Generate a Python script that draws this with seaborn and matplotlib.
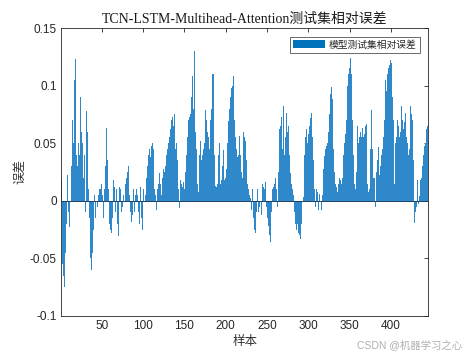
import numpy as np
import pandas as pd
import matplotlib
matplotlib.use("Agg")
import matplotlib.pyplot as plt
from matplotlib.patches import Patch
import seaborn as sns

# ---------------- data ----------------
rel_error = [
    # 1-48
    0.018, -0.03, -0.055, -0.065, -0.075, -0.045, -0.02, 0.02, 0.022, -0.01,
    -0.023, 0.0, 0.01, 0.03, 0.07, 0.05, 0.105, 0.123, 0.07, 0.04,
    0.03, 0.05, 0.04, 0.09, 0.088, 0.06, 0.05, 0.02, 0.04, -0.01,
    0.07, 0.078, 0.06, 0.01, -0.015, -0.035, -0.05, -0.06, -0.045, -0.025,
    0.005, 0.01, -0.015, 0.0, -0.005, 0.005, 0.01, 0.0,
    # 49-94
    0.01, 0.015, 0.005, -0.015, 0.01, 0.02, 0.03, 0.063, 0.035, 0.01,
    -0.01, -0.02, -0.025, -0.028, -0.015, 0.018, 0.005, 0.012, -0.01, 0.01,
    -0.02, -0.031, -0.02, 0.012, 0.01, -0.01, -0.005, 0.005, 0.012, 0.0,
    0.015, 0.02, 0.025, 0.042, 0.03, 0.005, -0.01, -0.018, -0.012, 0.005,
    0.01, -0.01, 0.005, 0.01, 0.005, 0.01,
    # 95-136
    -0.01, -0.02, 0.012, -0.015, -0.025, -0.02, 0.01, 0.0, 0.005, 0.02,
    0.04, 0.03, 0.04, 0.045, 0.038, 0.048, 0.056, 0.05, 0.045, 0.01,
    0.005, -0.008, 0.0, 0.01, 0.015, 0.024, 0.015, 0.005, 0.015, 0.02,
    0.028, 0.025, 0.03, 0.035, 0.04, 0.045, 0.05, 0.055, 0.062, 0.058,
    0.07, 0.073,
    # 137-184
    0.065, 0.075, 0.045, 0.07, 0.05, 0.035, 0.01, -0.006, 0.018, 0.019,
    0.015, 0.012, 0.016, 0.01, 0.012, 0.025, 0.04, 0.055, 0.07, 0.073,
    0.05, 0.075, 0.09, 0.108, 0.08, 0.13, 0.09, 0.06, 0.045, 0.015,
    0.008, 0.04, 0.045, 0.052, 0.035, 0.04, 0.045, 0.05, 0.065, 0.079,
    0.07, 0.06, 0.055, 0.05, 0.045, 0.07, 0.08, 0.11,
    # 185-232
    0.11, 0.09, 0.04, 0.013, 0.012, 0.015, 0.04, 0.072, 0.05, 0.015,
    0.018, 0.03, 0.044, 0.025, 0.018, 0.02, 0.028, 0.05, 0.065, 0.069,
    0.08, 0.09, 0.098, 0.1, 0.114, 0.108, 0.07, 0.055, 0.045, 0.038,
    0.03, 0.04, 0.056, 0.04, 0.025, 0.02, 0.045, 0.06, 0.055, 0.052,
    0.035, 0.02, 0.015, 0.01, 0.005, 0.002, -0.008, 0.005,
    # 233-278
    0.01, -0.015, -0.025, -0.028, -0.01, 0.021, 0.01, -0.01, -0.005, 0.0,
    -0.012, 0.008, 0.015, 0.012, 0.01, 0.016, 0.01, -0.005, -0.015, -0.022,
    -0.03, -0.036, -0.03, -0.01, 0.01, 0.012, 0.015, 0.02, 0.036, 0.01,
    -0.005, 0.025, 0.062, 0.065, 0.05, 0.073, 0.045, 0.082, 0.04, 0.045,
    0.055, 0.076, 0.06, 0.065, 0.04, 0.035,
    # 279-324
    0.024, 0.015, 0.01, 0.005, -0.01, -0.015, -0.02, -0.025, -0.02, -0.028,
    -0.03, -0.035, -0.033, -0.02, 0.0, 0.003, 0.025, 0.04, 0.055, 0.062,
    0.05, 0.058, 0.07, 0.065, 0.072, 0.076, 0.055, 0.035, 0.018, 0.01,
    -0.005, 0.01, 0.008, -0.008, 0.004, 0.006, 0.0, -0.008, 0.005, 0.015,
    0.028, 0.039, 0.045, 0.048, 0.05, 0.052,
    # 325-370
    0.06, 0.075, 0.093, 0.099, 0.088, 0.07, 0.045, 0.025, 0.015, 0.012,
    0.008, -0.006, 0.015, 0.02, 0.018, 0.015, 0.022, 0.02, 0.04, 0.05,
    0.058, 0.07, 0.085, 0.1, 0.11, 0.115, 0.124, 0.11, 0.09, 0.07,
    0.04, 0.015, 0.01, 0.025, 0.045, 0.065, 0.05, 0.055, 0.06, 0.07,
    0.055, 0.063, 0.055, 0.058, 0.065, 0.06,
    # 371-412
    0.067, 0.015, 0.008, 0.01, 0.045, 0.06, 0.079, 0.045, 0.02, 0.02,
    -0.005, 0.018, 0.025, 0.035, 0.047, 0.022, 0.025, 0.03, 0.04, 0.045,
    0.055, 0.07, 0.09, 0.105, 0.095, 0.11, 0.115, 0.118, 0.12, 0.122,
    0.12, 0.09, 0.07, 0.015, 0.04, 0.05, 0.055, 0.07, 0.065, 0.06,
    0.055, 0.06,
    # 413-445
    0.082, 0.07, 0.062, 0.075, 0.068, 0.076, 0.055, 0.05, 0.04, 0.065,
    0.045, 0.082, 0.075, 0.07, 0.035, 0.012, -0.019, -0.01, -0.005, 0.018,
    0.01, -0.003, 0.004, 0.018, 0.02, 0.03, 0.036, 0.04, 0.048, 0.05,
    0.062, 0.065, 0.065,
]
sample_index = list(range(1, len(rel_error) + 1))

xtick_values = [50, 100, 150, 200, 250, 300, 350, 400]
ytick_values = [-0.1, -0.05, 0, 0.05, 0.1, 0.15]
ytick_labels = ["-0.1", "-0.05", "0", "0.05", "0.1", "0.15"]

title_text = "TCN-LSTM-Multihead-Attention测试集相对误差"
legend_text = "模型测试集相对误差"
xlabel_text = "样本"
ylabel_text = "误差"
watermark_text = "CSDN @机器学习之心"

# ---------------- plot ----------------
sns.set_theme(style="white")
plt.rcParams["font.family"] = ["Liberation Sans", "Noto Sans CJK SC", "DejaVu Sans"]

bar_color = "#2f88c9"
legend_color = "#0072BD"
df = pd.DataFrame({"sample": sample_index, "err": rel_error})

fig = plt.figure(figsize=(4.74, 3.55), dpi=100)
ax = fig.add_axes([0.129, 0.110, 0.775, 0.811])

sns.barplot(data=df, x="sample", y="err", native_scale=True, color=bar_color,
            saturation=1, width=1.0, linewidth=0, ax=ax)
ax.axhline(0, color="#1f3f5f", lw=0.7, zorder=3)

ax.set_xlim(1.0, 445.6)
ax.set_ylim(-0.1, 0.15)
ax.set_xticks(xtick_values)
ax.set_xticklabels([str(v) for v in xtick_values])
ax.set_yticks(ytick_values)
ax.set_yticklabels(ytick_labels)

ax.tick_params(axis="both", direction="in", length=3, width=0.6, top=True,
               right=True, labelsize=8.5, colors="#262626", pad=3)
for sp in ax.spines.values():
    sp.set_visible(True)
    sp.set_color("#262626")
    sp.set_linewidth(0.6)

ax.set_title(title_text, family=["Liberation Serif", "Noto Sans CJK SC"],
             fontsize=10, color="#1a1a1a", pad=4)
ax.set_xlabel(xlabel_text, family=["Noto Sans CJK SC"], fontsize=9,
              color="#333333", labelpad=2)
ax.set_ylabel(ylabel_text, family=["Noto Sans CJK SC"], fontsize=9,
              color="#333333", labelpad=3)

handle = Patch(facecolor=legend_color, edgecolor="none")
leg = ax.legend([handle], [legend_text], loc="upper right",
                prop={"family": ["Noto Sans CJK SC"], "size": 7},
                handlelength=3.3, handleheight=0.9, handletextpad=0.4,
                borderpad=0.3, borderaxespad=0.9, frameon=True, fancybox=False)
leg.get_frame().set_edgecolor("#262626")
leg.get_frame().set_linewidth(0.6)

fig.text(0.975, 0.03, watermark_text, ha="right", va="center",
         family=["Liberation Sans", "Noto Sans CJK SC"], fontsize=7.5,
         color="#b0b0b0")

fig.savefig("out.png", dpi=100, facecolor="white")
